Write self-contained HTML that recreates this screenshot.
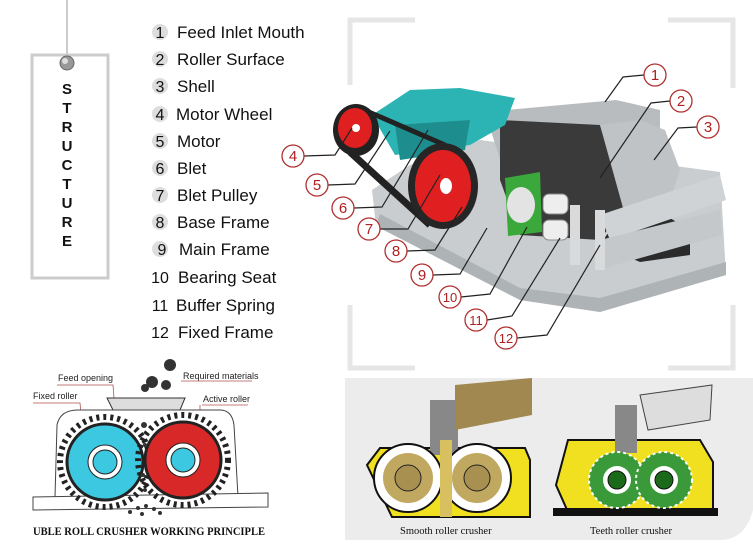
<!DOCTYPE html>
<html><head><meta charset="utf-8"><style>
html,body{margin:0;padding:0;background:#fff;width:753px;height:548px;overflow:hidden}
svg{display:block}
.l{font-family:"Liberation Sans",sans-serif;font-size:17px;fill:#111}
.n{font-family:"Liberation Sans",sans-serif;font-size:16px;fill:#111}
.c{font-family:"Liberation Sans",sans-serif;font-size:15px;fill:#b02020}
.s{font-family:"Liberation Sans",sans-serif;font-size:15px;font-weight:bold;fill:#111}
.t{font-family:"Liberation Sans",sans-serif;font-size:9px;fill:#222}
.ser{font-family:"Liberation Serif",serif;font-size:10.5px;fill:#111}
</style></head><body>
<svg width="753" height="548" viewBox="0 0 753 548" xmlns="http://www.w3.org/2000/svg">
<!-- tag -->
<line x1="67" y1="0" x2="67" y2="58" stroke="#bbb" stroke-width="1.5"/>
<rect x="32" y="55" width="76" height="223" fill="#fff" stroke="#ccc" stroke-width="3"/>
<circle cx="67" cy="63" r="7" fill="#999" stroke="#666"/>
<circle cx="65" cy="61" r="3" fill="#ddd"/>
<g class="s" text-anchor="middle">
<text x="67" y="94">S</text><text x="67" y="113">T</text><text x="67" y="132">R</text><text x="67" y="151">U</text><text x="67" y="170">C</text><text x="67" y="189">T</text><text x="67" y="208">U</text><text x="67" y="227">R</text><text x="67" y="246">E</text>
</g>
<!-- list -->
<g fill="#ddd">
<circle cx="160" cy="32" r="8"/><circle cx="160" cy="59" r="8"/><circle cx="160" cy="86" r="8"/><circle cx="160" cy="114" r="8"/><circle cx="160" cy="141" r="8"/><circle cx="160" cy="168" r="8"/><circle cx="160" cy="195" r="8"/><circle cx="160" cy="222" r="8"/><circle cx="160" cy="249" r="8"/>
</g>
<g class="n" text-anchor="middle">
<text x="160" y="38">1</text><text x="160" y="65">2</text><text x="160" y="92">3</text><text x="160" y="120">4</text><text x="160" y="147">5</text><text x="160" y="174">6</text><text x="160" y="201">7</text><text x="160" y="228">8</text><text x="162" y="255">9</text><text x="160" y="283">10</text><text x="160" y="311">11</text><text x="160" y="338">12</text>
</g>
<g class="l">
<text x="177" y="38">Feed Inlet Mouth</text><text x="177" y="65">Roller Surface</text><text x="177" y="92">Shell</text><text x="176" y="120">Motor Wheel</text><text x="177" y="147">Motor</text><text x="177" y="174">Blet</text><text x="177" y="201">Blet Pulley</text><text x="177" y="228">Base Frame</text><text x="179" y="255">Main Frame</text><text x="178" y="283">Bearing Seat</text><text x="176" y="311">Buffer Spring</text><text x="178" y="338">Fixed Frame</text>
</g>
<!-- frame brackets -->
<g stroke="#e6e6e6" stroke-width="5" fill="none">
<polyline points="415,20 350,20 350,85"/>
<polyline points="350,305 350,368 415,368"/>
<polyline points="668,20 733,20 733,88"/>
<polyline points="733,305 733,368 668,368"/>
</g>
<!-- machine -->
<polygon points="372,190 410,165 480,140 720,172 726,275 600,312 520,300 376,226" fill="#c9cdd0"/>
<polygon points="376,226 520,300 600,312 726,275 726,262 600,298 520,288 380,214" fill="#aeb3b6"/>
<polygon points="485,112 616,100 660,110 660,165 600,170 505,175" fill="#b8bcbf"/>
<polygon points="500,120 600,125 625,205 600,240 520,235 500,180" fill="#3a3a3a"/>
<polygon points="600,125 640,120 665,130 680,170 665,215 625,215" fill="#bfc3c6"/>
<polygon points="620,215 665,215 690,230 690,255 640,262 600,245" fill="#2b2b2b"/>
<polygon points="600,215 720,175 726,200 610,240" fill="#d0d3d5"/>
<polygon points="600,240 720,210 722,235 605,268" fill="#c5c8cb"/>
<rect x="570" y="205" width="10" height="60" fill="#d8dadc"/>
<rect x="595" y="210" width="10" height="60" fill="#d8dadc"/>
<polygon points="372,115 410,90 460,88 515,98 505,125 470,145 395,155" fill="#2cb4b4"/>
<polygon points="395,125 470,120 465,150 400,160" fill="#1e8d8d"/>
<polygon points="505,178 540,172 542,232 508,236" fill="#3aa83a"/>
<ellipse cx="521" cy="205" rx="14" ry="18" fill="#e3e3e3"/>
<g fill="#eee" stroke="#888" stroke-width="1">
<rect x="543" y="194" width="25" height="20" rx="6"/><rect x="543" y="220" width="25" height="20" rx="6"/>
</g>
<!-- belt -->
<line x1="355" y1="106" x2="445" y2="145" stroke="#222" stroke-width="5"/>
<line x1="350" y1="152" x2="430" y2="225" stroke="#222" stroke-width="7"/>
<ellipse cx="356" cy="130" rx="23" ry="26" fill="#222"/>
<ellipse cx="355" cy="128" rx="17" ry="20" fill="#e02020"/>
<circle cx="356" cy="128" r="4" fill="#fff"/>
<ellipse cx="443" cy="186" rx="35" ry="43" fill="#262626"/>
<ellipse cx="443" cy="186" rx="28" ry="36" fill="#e02020"/>
<ellipse cx="446" cy="186" rx="6" ry="8" fill="#fff"/>
<!-- callouts -->
<g stroke="#222" stroke-width="1.2" fill="none">
<polyline points="644,75 623,77 605,102"/>
<polyline points="670,101 651,103 600,178"/>
<polyline points="697,127 678,128 654,160"/>
<polyline points="304,156 335,155 352,128"/>
<polyline points="328,185 355,184 390,131"/>
<polyline points="354,208 382,207 428,130"/>
<polyline points="380,229 408,229 440,175"/>
<polyline points="407,251 435,250 462,207"/>
<polyline points="433,275 460,274 487,228"/>
<polyline points="461,297 490,294 527,227"/>
<polyline points="487,320 512,316 560,238"/>
<polyline points="517,338 547,335 600,245"/>
</g>
<g fill="#fff" stroke="#b03030" stroke-width="1.3">
<circle cx="655" cy="75" r="11"/><circle cx="681" cy="101" r="11"/><circle cx="708" cy="127" r="11"/><circle cx="293" cy="156" r="11"/><circle cx="317" cy="185" r="11"/><circle cx="343" cy="208" r="11"/><circle cx="369" cy="229" r="11"/><circle cx="396" cy="251" r="11"/><circle cx="422" cy="275" r="11"/><circle cx="450" cy="297" r="11"/><circle cx="476" cy="320" r="11"/><circle cx="506" cy="338" r="11"/>
</g>
<g class="c" text-anchor="middle">
<text x="655" y="80">1</text><text x="681" y="106">2</text><text x="708" y="132">3</text><text x="293" y="161">4</text><text x="317" y="190">5</text><text x="343" y="213">6</text><text x="369" y="234">7</text><text x="396" y="256">8</text><text x="422" y="280">9</text><text x="450" y="302" font-size="13">10</text><text x="476" y="325" font-size="13">11</text><text x="506" y="343" font-size="13">12</text>
</g>
<!-- working principle -->
<g fill="#333"><circle cx="170" cy="365" r="6"/><circle cx="152" cy="382" r="6"/><circle cx="166" cy="385" r="5"/><circle cx="145" cy="388" r="4"/></g>
<text class="t" x="58" y="381">Feed opening</text>
<text class="t" x="33" y="399">Fixed roller</text>
<text class="t" x="183" y="379">Required materials</text>
<text class="t" x="203" y="402">Active roller</text>
<g stroke="#b05050" stroke-width="0.8" fill="none">
<polyline points="57,385 113,385 114,398"/><polyline points="33,403 80,403 82,425"/><line x1="181" y1="381" x2="252" y2="381"/><polyline points="202,405 248,405"/><line x1="200" y1="405" x2="200" y2="425"/>
</g>
<polygon points="107,398 185,398 180,410 113,410" fill="#ddd" stroke="#333"/>
<path d="M55,497 L57,425 Q60,410 78,410 L220,410 Q232,410 234,425 L238,497 Z" fill="#fff" stroke="#444"/>
<polygon points="33,497 268,493 268,507 33,510" fill="#fff" stroke="#444"/>
<g>
<circle cx="105" cy="462" r="45" fill="none" stroke="#222" stroke-width="6" stroke-dasharray="3 4"/>
<circle cx="105" cy="462" r="38" fill="#3cc8e0" stroke="#222" stroke-width="3"/>
<circle cx="105" cy="462" r="17" fill="#fff" stroke="#222"/>
<circle cx="105" cy="462" r="12" fill="#3cc8e0" stroke="#222"/>
<circle cx="183" cy="460" r="45" fill="none" stroke="#222" stroke-width="6" stroke-dasharray="3 4"/>
<circle cx="183" cy="460" r="38" fill="#d82828" stroke="#222" stroke-width="3"/>
<circle cx="183" cy="460" r="17" fill="#fff" stroke="#222"/>
<circle cx="183" cy="460" r="12" fill="#3cc8e0" stroke="#222"/>
</g>
<g fill="#333"><circle cx="144" cy="425" r="3"/><circle cx="145" cy="445" r="2"/><circle cx="143" cy="475" r="2"/><circle cx="145" cy="490" r="2"/>
<circle cx="130" cy="512" r="2"/><circle cx="138" cy="508" r="2"/><circle cx="146" cy="506" r="2"/><circle cx="154" cy="509" r="2"/><circle cx="160" cy="513" r="2"/><circle cx="142" cy="514" r="2"/></g>
<text x="33" y="535" font-family="Liberation Serif,serif" font-weight="bold" font-size="12" fill="#111" textLength="232" lengthAdjust="spacingAndGlyphs">UBLE ROLL CRUSHER WORKING PRINCIPLE</text>
<!-- crusher panel -->
<path d="M345,378 L753,378 L753,510 Q745,540 720,540 L345,540 Z" fill="#ececec"/>
<!-- smooth -->
<polygon points="380,448 525,448 530,460 530,517 392,517 367,465" fill="#f0e020" stroke="#111" stroke-width="2"/>
<rect x="430" y="400" width="28" height="55" fill="#888"/>
<polygon points="455,385 532,378 532,415 455,430" fill="#a08850"/>
<circle cx="408" cy="478" r="34" fill="#fff" stroke="#111" stroke-width="2"/>
<circle cx="408" cy="478" r="25" fill="#c0a860"/>
<circle cx="408" cy="478" r="13" fill="#a89050" stroke="#222"/>
<circle cx="477" cy="478" r="34" fill="#fff" stroke="#111" stroke-width="2"/>
<circle cx="477" cy="478" r="25" fill="#c0a860"/>
<circle cx="477" cy="478" r="13" fill="#a89050" stroke="#222"/>
<rect x="440" y="440" width="12" height="77" fill="#d8c060"/>
<text class="ser" x="400" y="534">Smooth roller crusher</text>
<!-- teeth -->
<polygon points="568,440 700,440 713,462 713,512 568,512 556,485" fill="#f0e020" stroke="#111" stroke-width="2"/>
<rect x="553" y="508" width="165" height="8" fill="#111"/>
<rect x="615" y="405" width="22" height="48" fill="#888"/>
<polygon points="640,395 712,385 710,420 648,430" fill="#ddd" stroke="#444"/>
<circle cx="617" cy="480" r="28" fill="#3a9a3a" stroke="#fff" stroke-width="2" stroke-dasharray="3 3"/>
<circle cx="617" cy="480" r="14" fill="#fff"/><circle cx="617" cy="480" r="9" fill="#1a6a1a" stroke="#111"/>
<circle cx="664" cy="480" r="28" fill="#3a9a3a" stroke="#fff" stroke-width="2" stroke-dasharray="3 3"/>
<circle cx="664" cy="480" r="14" fill="#fff"/><circle cx="664" cy="480" r="9" fill="#1a6a1a" stroke="#111"/>
<text class="ser" x="590" y="534">Teeth roller crusher</text>
</svg>
</body></html>
